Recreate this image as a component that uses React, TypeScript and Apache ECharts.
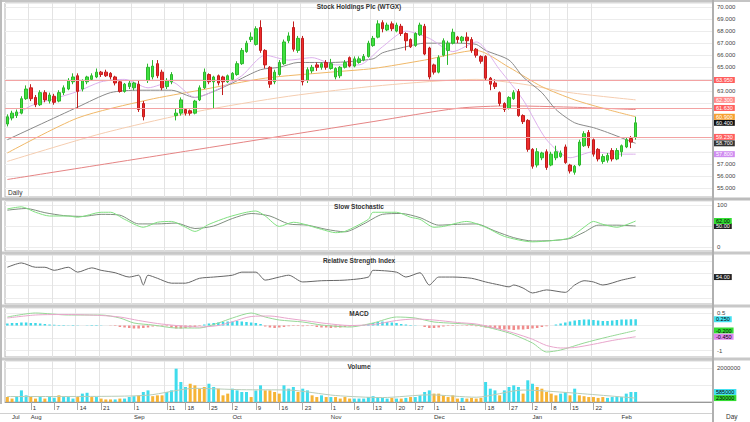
import React, { useEffect, useRef } from "react";
import * as echarts from "echarts";

const TITLE = "Stock Holdings Plc (WTGX)";
const FONT = "'Liberation Sans', Arial, sans-serif";

// ---- price data (daily OHLC) ----
const opens = [60.3,60.8,61.0,61.2,62.4,63.3,62.5,61.9,62.9,62.2, 62.6,62.2,62.9,63.2,63.8,64.3,63.2,63.8,64.0,64.2, 64.6,64.6,64.5,64.2,63.8,63.0,63.4,63.3,63.6,62.0, 63.9,64.2,65.3,64.6,63.4,63.8,61.0,61.2,61.5,61.4, 61.2,62.3,63.3,64.4,63.8,64.3,64.2,63.8,64.0,64.4, 65.3,66.3,67.3,66.9,68.3,66.4,65.0,63.8,64.4,65.3, 67.2,68.3,66.4,67.4,63.9,64.7,65.2,65.0,65.4,64.9, 64.2,64.3,65.0,65.8,65.1,65.4,65.6,65.9,66.8,67.5, 68.7,68.1,68.6,68.0,68.4,67.8,67.3,66.8,67.7,68.4, 66.6,65.2,64.6,66.0,66.4,67.0,67.5,67.2,67.5,67.3, 66.5,65.9,65.9,64.1,63.7,62.9,62.0,61.6,62.4,63.0, 61.0,60.6,58.2,56.9,57.5,58.0,56.9,57.5,57.6,58.4, 56.9,56.3,56.9,58.5,59.6,59.0,58.2,57.2,57.3,58.1, 57.4,58.0,58.4,59.1,59.2];
const closes = [60.9,61.2,61.3,62.4,63.2,62.4,61.9,62.9,62.3,62.7, 62.1,62.9,63.3,63.9,64.2,63.0,63.9,64.2,64.3,64.6, 64.4,64.3,64.2,63.7,63.0,63.6,63.7,63.7,61.5,60.9, 65.0,65.1,64.3,63.3,63.9,64.4,61.2,62.3,61.2,61.2, 62.2,63.3,64.6,63.8,64.2,63.7,63.8,64.3,64.5,65.3, 66.4,67.0,67.5,68.2,66.4,65.2,63.6,64.6,65.4,67.1, 67.6,66.5,67.4,63.8,64.8,65.0,65.0,65.3,65.0,65.3, 64.9,65.0,65.4,65.1,65.7,65.7,65.9,67.0,67.4,68.6, 68.2,68.5,68.2,68.5,67.8,67.2,66.7,67.8,68.5,66.1, 64.2,64.6,65.8,67.2,67.0,67.9,67.3,67.5,67.2,66.4, 66.0,65.5,64.1,63.6,63.4,62.0,61.5,62.5,62.9,61.0, 60.5,58.2,56.8,58.0,57.9,56.7,57.8,58.0,57.9,57.1, 56.4,56.8,58.8,59.5,58.5,57.8,57.4,57.6,57.7,57.4, 58.1,58.5,59.0,58.8,60.4];
const lows = [60.1,60.6,60.8,61.1,62.3,62.2,61.7,61.8,62.1,62.0, 61.9,62.1,62.7,63.1,63.6,61.6,63.0,63.6,63.9,64.1, 64.2,64.2,64.0,63.5,62.9,62.9,63.2,63.1,61.3,60.6, 63.7,64.0,64.1,63.1,63.2,63.6,60.6,61.0,61.0,61.0, 61.1,62.2,63.2,63.6,61.6,63.5,62.7,63.7,63.9,64.3, 65.2,66.2,67.1,66.8,66.2,64.9,63.3,63.6,64.3,65.2, 67.0,66.3,66.2,63.5,63.7,64.5,64.7,64.8,64.8,64.8, 64.0,64.1,64.9,65.0,65.0,65.3,65.5,65.8,66.7,67.4, 67.9,68.0,68.0,67.9,67.6,66.4,66.6,66.7,67.6,66.0, 64.0,64.4,64.5,65.9,65.2,66.9,67.0,67.0,66.6,66.2, 65.8,65.3,63.9,63.1,63.2,61.8,61.3,61.5,62.3,60.9, 60.3,58.0,56.6,56.7,57.3,56.5,56.8,57.3,57.5,57.0, 56.2,56.1,56.8,58.4,58.3,57.6,57.2,57.0,57.1,57.2, 57.3,57.6,58.3,58.3,59.0];
const highs = [61.1,61.4,61.5,62.6,63.5,63.6,62.7,63.1,63.1,62.9, 62.8,63.1,63.5,64.1,64.5,64.5,64.0,64.3,64.5,64.9, 64.7,64.8,64.6,64.3,63.9,63.7,63.9,63.8,63.9,62.2, 65.3,65.6,65.6,64.8,64.1,64.6,61.6,62.5,61.6,61.5, 62.3,63.5,64.9,64.5,64.3,64.4,64.3,64.4,64.6,65.5, 66.6,67.2,67.9,68.4,68.9,66.5,65.1,64.8,65.6,67.3, 67.9,68.8,67.6,67.6,65.0,65.2,65.4,65.4,65.6,65.7, 65.0,65.1,65.6,65.9,65.9,65.9,66.1,67.2,67.6,68.9, 68.9,68.7,68.8,68.7,68.6,67.9,67.4,67.9,68.7,68.6, 66.7,65.3,66.0,67.4,67.2,68.2,67.6,67.6,67.9,67.5, 66.6,66.0,66.0,64.2,64.0,63.0,62.1,62.6,63.1,63.2, 61.1,60.7,58.3,58.3,58.0,58.2,58.0,58.5,58.1,58.6, 57.0,56.9,59.0,59.7,59.8,59.1,58.3,57.8,57.9,58.3, 58.3,58.6,59.2,59.3,60.9];

// ---- moving averages: [day index, value] ----
const shortMA = [[0,60.6],[5,61.8],[10,62.4],[15,63.0],[20,63.8],[25,64.0],[30,63.3],[35,63.8],[40,62.5],[45,63.2],[50,64.3],[55,66.0],[60,65.6],[65,65.8],[70,65.2],[75,65.2],[80,66.7],[85,68.0],[90,67.4],[95,66.3],[100,67.1],[105,64.8],[110,62.3],[115,59.0],[120,57.5],[125,58.0],[130,57.8],[134,57.8]];
const grayMA = [[0,59.0],[15,61.7],[22,62.9],[28,63.1],[35,63.1],[40,62.5],[44,63.0],[48,63.7],[54,64.8],[58,65.0],[62,65.4],[69,65.4],[78,65.7],[80,66.2],[85,66.7],[89,67.0],[96,67.0],[100,66.9],[102,66.4],[107,65.6],[110,64.2],[114,62.9],[117,61.5],[121,60.4],[125,60.0],[128,59.6],[132,59.0],[134,58.7]];
const orangeMA = [[0,57.9],[15,60.8],[30,62.3],[41,63.1],[55,64.1],[69,64.6],[78,64.9],[89,65.6],[100,66.4],[107,65.0],[114,63.4],[121,62.3],[128,61.5],[134,60.9]];
const peachMA = [[0,57.2],[20,59.5],[40,61.3],[60,62.6],[80,63.5],[100,64.0],[110,63.6],[120,62.9],[134,62.3]];
const redMA = [[0,55.7],[39,58.1],[78,60.5],[96,61.6],[107,61.8],[120,61.7],[134,61.5]];
const levels = [63.95, 61.63, 59.23];

// ---- indicators ----
const stochK = [[0,91],[3,96],[6,83],[9,74],[13,74],[15,71],[20,83],[22,83],[25,66],[29,47],[32,59],[35,61],[38,47],[40,37],[43,54],[47,71],[51,83],[53,86],[55,74],[58,49],[61,59],[67,42],[70,34],[72,37],[77,66],[78,83],[83,83],[86,71],[88,66],[91,47],[93,49],[98,61],[102,47],[106,25],[112,12],[118,17],[120,22],[123,47],[125,61],[127,54],[130,47],[134,62]];
const stochD = [[0,88],[4,92],[8,82],[12,75],[16,73],[20,78],[24,76],[28,55],[32,55],[36,57],[40,44],[44,50],[48,68],[52,80],[56,74],[60,55],[64,52],[68,42],[72,36],[76,55],[80,78],[84,80],[88,70],[92,52],[96,54],[100,55],[104,38],[108,22],[112,14],[116,15],[120,20],[123,35],[126,52],[130,52],[134,50]];
const rsi = [[0,70],[3,77],[6,70],[8,70],[10,65],[13,70],[15,62],[18,69],[20,65],[23,61],[26,54],[28,57],[29,41],[30,57],[32,52],[35,44],[38,44],[41,52],[44,54],[48,57],[50,62],[53,62],[55,49],[58,54],[60,57],[63,46],[67,48],[72,49],[77,54],[78,65],[83,62],[85,54],[88,61],[90,41],[92,54],[95,54],[99,52],[102,46],[105,41],[107,38],[108,41],[110,36],[112,28],[115,33],[119,29],[121,41],[123,48],[125,46],[127,41],[131,49],[134,54]];
const macdLine = [[0,0.34],[6,0.5],[13,0.42],[20,0.42],[24,0.3],[27,0.1],[31,0.02],[36,-0.1],[41,-0.1],[45,0.1],[48,0.3],[52,0.5],[55,0.34],[58,0.22],[63,0.14],[67,0.02],[73,-0.06],[78,0.1],[83,0.34],[87,0.3],[91,0.14],[100,0.02],[107,-0.3],[112,-0.7],[115,-1.06],[118,-0.98],[123,-0.7],[128,-0.46],[134,-0.2]];
const macdSignal = [[0,0.3],[6,0.42],[13,0.44],[20,0.4],[24,0.34],[28,0.2],[32,0.08],[36,0.0],[41,-0.06],[45,0.0],[48,0.15],[52,0.36],[56,0.38],[60,0.28],[64,0.18],[68,0.08],[73,0.0],[78,0.04],[83,0.2],[87,0.26],[91,0.22],[96,0.12],[100,0.06],[104,-0.1],[108,-0.3],[112,-0.55],[115,-0.8],[118,-0.9],[121,-0.88],[125,-0.75],[129,-0.6],[134,-0.45]];
const macdHist = [0.08,0.1,0.1,0.12,0.12,0.1,0.1,0.08,0.06, 0.04,0.03,0.02,0.02,0.01,0.02,0.01,0,0.01,0.02,0.02,0.01,0,-0.01,-0.02, -0.06,-0.08,-0.1,-0.12,-0.12,-0.1,-0.08, -0.04,-0.03,-0.02,-0.03, -0.08,-0.12,-0.12,-0.1,-0.08,-0.06, -0.02, 0.04,0.08,0.1,0.12,0.14,0.16,0.16,0.18,0.16,0.14,0.12,0.1,0.06, -0.04,-0.08,-0.1,-0.08,-0.06, -0.03,-0.02,-0.02,-0.03,-0.02,-0.02, -0.06,-0.08,-0.08,-0.1,-0.08,-0.08,-0.06,-0.04, -0.02,0,0.02, 0.06,0.1,0.14,0.16,0.14,0.12,0.1, 0.06,0.04,0.02,0.01,0, -0.06,-0.1,-0.1,-0.08, -0.04,-0.02,-0.02,-0.01,-0.01,-0.02,-0.02,-0.03,-0.04, -0.08,-0.1,-0.12,-0.14,-0.16,-0.16,-0.18,-0.16,-0.16,-0.14,-0.12,-0.1,-0.06, -0.03,0, 0.04,0.08,0.12,0.16,0.2,0.22,0.24,0.24,0.22,0.2,0.18,0.18,0.2,0.22,0.24,0.24,0.25,0.25];

// volume in thousands of shares, and bar colour (c = cyan, o = orange)
const volumeK = [290,200,290,680,390,290,200,290,200,290, 250,390,290,290,200,290,490,540,290,290, 200,150,150,150,200,200,290,340,390,585, 680,340,390,390,585,680,1950,1170,880,1070, 975,780,880,1070,880,780,390,490,780,680, 585,585,290,680,975,680,680,585,490,975, 780,880,585,780,680,390,290,390,290,290, 290,200,290,200,200,200,200,290,340,290, 240,200,240,200,200,240,290,290,390,585, 680,490,490,390,290,390,200,240,200,240, 200,240,1170,780,680,390,680,880,975,880, 490,1270,1070,880,780,585,490,390,490,585, 390,780,390,340,290,290,240,290,240,290, 290,290,490,585,585];
const volumeSide = ["oocccoococ","cocccoccoc","ooococccoc","coooccccco","oooccooocc","ccoccooooc","ccoccoococ","oooocccccc","ccocococcc","coooooocoo","oocccocccc","occooooocc","ocoooooocc","ccccc"].join("");
const volumeMA = [[0,320],[20,330],[30,400],[40,800],[50,720],[60,700],[70,380],[80,260],[90,420],[100,280],[110,700],[120,540],[134,230]];

// ---- x axis ticks ----
const SLOTS = 151;
const categories = Array.from({ length: SLOTS }, (_, i) => String(i));
const weekTicks: [number, string][] = [[5,"1"],[10,"7"],[15,"14"],[20,"21"],[27,"1"],[34,"11"],[38,"18"],[43,"25"],[48,"2"],[53,"9"],[58,"16"],[63,"23"],[69,"1"],[74,"6"],[78,"13"],[83,"20"],[87,"27"],[91,"1"],[96,"11"],[102,"18"],[107,"27"],[112,"2"],[116,"8"],[120,"15"],[125,"22"]];
const monthTicks: [number, string][] = [[1,"Jul"],[5,"Aug"],[27,"Sep"],[48,"Oct"],[69,"Nov"],[91,"Dec"],[112,"Jan"],[131,"Feb"]];

const last = (arr: number[][]) => arr[arr.length - 1][1];
const CLEAR = "rgba(0,0,0,0)";

function tagLabel(bg: string, fg: string, text: string) {
  return {
    show: true, position: "end", distance: 1, formatter: text,
    backgroundColor: bg, color: fg, fontSize: 5.5, fontFamily: FONT,
    padding: [0, 2, 0, 2], lineHeight: 6,
  };
}
function tag(value: number, bg: string, fg: string, text: string) {
  return {
    silent: true, symbol: "none", animation: false,
    lineStyle: { color: CLEAR, width: 1 },
    label: tagLabel(bg, fg, text),
    data: [{ yAxis: value }],
  };
}
const near = (v: number, list: number[], d: number) => list.some((t) => Math.abs(t - v) < d);

function buildOption() {
  const L = 5, R = 37;
  const gridDefs = [
    { top: 3, height: 194 },
    { top: 201, height: 50 },
    { top: 255, height: 49 },
    { top: 308, height: 49 },
    { top: 361, height: 41 },
  ];
  const weekSet = new Set(weekTicks.map((t) => t[0]));
  const weekMap = new Map(weekTicks.map((t) => [String(t[0]), t[1]]));
  const monthSet = new Set(monthTicks.map((t) => t[0]));
  const monthMap = new Map(monthTicks.map((t) => [String(t[0]), t[1]]));
  const splitInt = (i: number) => weekSet.has(i);

  const lastClose = closes[closes.length - 1];
  const priceTags = [...levels, lastClose, last(peachMA), last(orangeMA), last(grayMA), last(shortMA)];
  const histLast = macdHist[macdHist.length - 1];
  const macdTags = [histLast, last(macdLine), last(macdSignal)];

  const xAxis: any[] = gridDefs.map((_, k) => ({
    type: "category", gridIndex: k, data: categories, boundaryGap: true,
    axisLine: { show: k === 4, lineStyle: { color: "#999" } },
    axisTick: k === 4
      ? { show: true, interval: splitInt, length: 8, alignWithLabel: true, lineStyle: { color: "#aaa" } }
      : { show: false },
    axisLabel: k === 4
      ? { show: true, interval: splitInt, formatter: (v: string) => weekMap.get(v) ?? "", fontSize: 6, color: "#333", margin: 3, align: "left", padding: [0, 0, 0, 2] }
      : { show: false },
    splitLine: { show: true, interval: splitInt, lineStyle: { color: "#e3e3e3", width: 1 } },
  }));
  xAxis.push({
    type: "category", gridIndex: 4, data: categories, boundaryGap: true, position: "bottom", offset: 10,
    axisLine: { show: false }, axisTick: { show: false }, splitLine: { show: false },
    axisLabel: { show: true, interval: (i: number) => monthSet.has(i), formatter: (v: string) => monthMap.get(v) ?? "", fontSize: 6, color: "#333", margin: 2, align: "left" },
  });

  const yBase = {
    type: "value", position: "right",
    axisLine: { show: false }, axisTick: { show: false },
    splitLine: { show: true, lineStyle: { color: "#ececec" } },
  };
  const yAxis: any[] = [
    { ...yBase, gridIndex: 0, min: 54.25, max: 70.33, minInterval: 1, maxInterval: 1, splitNumber: 16,
      axisLabel: { fontSize: 6, color: "#444", margin: 4, showMinLabel: false, showMaxLabel: false,
        formatter: (v: number) => (near(v, priceTags, 0.5) ? "" : v.toFixed(3)) } },
    { ...yBase, gridIndex: 1, min: -10, max: 110, minInterval: 50, maxInterval: 50,
      axisLabel: { fontSize: 6, color: "#444", margin: 4, formatter: (v: number) => (v === 0 || v === 100 ? String(v) : "") } },
    { ...yBase, gridIndex: 2, min: 10, max: 90, minInterval: 20, maxInterval: 20,
      axisLabel: { show: false } },
    { ...yBase, gridIndex: 3, min: -1.26, max: 0.7, minInterval: 0.5, maxInterval: 0.5,
      axisLabel: { fontSize: 6, color: "#444", margin: 4, showMinLabel: false, showMaxLabel: false,
        formatter: (v: number) => (near(v, macdTags, 0.22) ? "" : String(v)) } },
    { ...yBase, gridIndex: 4, min: 0, max: 2400, minInterval: 1000, maxInterval: 1000,
      axisLabel: { fontSize: 6, color: "#444", margin: 4, formatter: (v: number) => (v === 2000 ? String(v * 1000) : "") } },
  ];

  const candleData = opens.map((o, i) => [o, closes[i], lows[i], highs[i]]);

  const lineS = (data: number[][], xi: number, color: string, width = 1, markLine?: any) => ({
    type: "line", xAxisIndex: xi, yAxisIndex: xi, data, showSymbol: false, smooth: 0.25,
    lineStyle: { color, width }, itemStyle: { color }, silent: true, z: 3,
    ...(markLine ? { markLine } : {}),
  });

  const series: any[] = [
    {
      type: "candlestick", xAxisIndex: 0, yAxisIndex: 0, data: candleData, barWidth: 3, z: 4,
      itemStyle: { color: "#3fe03f", color0: "#ee2b2b", borderColor: "#2cb82c", borderColor0: "#c21d1d", borderWidth: 1 },
      markLine: {
        silent: true, symbol: "none", animation: false,
        lineStyle: { color: "#f3a3a3", width: 1, type: "solid" },
        label: { ...tagLabel("#ff5e5e", "#fff", ""), formatter: (p: any) => Number(p.value).toFixed(3) },
        data: [
          ...levels.map((v) => ({ yAxis: v })),
          { yAxis: lastClose, lineStyle: { color: CLEAR }, label: { backgroundColor: "#111", color: "#fff" } },
        ],
      },
    },
    lineS(redMA, 0, "#e58484", 1),
    lineS(peachMA, 0, "#f5cdb0", 1, tag(last(peachMA), "#ff8a8a", "#fff", last(peachMA).toFixed(3))),
    lineS(orangeMA, 0, "#f0b868", 1, tag(last(orangeMA), "#f7a030", "#fff", last(orangeMA).toFixed(3))),
    lineS(grayMA, 0, "#8a8a8a", 1, tag(last(grayMA), "#333", "#fff", last(grayMA).toFixed(3))),
    lineS(shortMA, 0, "#dcb0ec", 1, tag(last(shortMA), "#cf8cf0", "#fff", last(shortMA).toFixed(3))),

    lineS(stochD, 1, "#7f8f7f", 1, tag(last(stochD), "#222", "#fff", last(stochD).toFixed(2))),
    lineS(stochK, 1, "#80e080", 1, tag(last(stochK), "#33dd33", "#000", last(stochK).toFixed(2))),

    lineS(rsi, 2, "#666", 1, tag(last(rsi), "#222", "#fff", last(rsi).toFixed(2))),

    {
      type: "bar", xAxisIndex: 3, yAxisIndex: 3, barWidth: 2.5, silent: true,
      data: macdHist.map((v) => ({ value: v, itemStyle: { color: v >= 0 ? "#3dd8e8" : "#f08c8c" } })),
      markLine: tag(histLast, "#44e0f0", "#000", histLast.toFixed(3)),
    },
    lineS(macdLine, 3, "#96d896", 1, tag(last(macdLine), "#33dd33", "#000", last(macdLine).toFixed(3))),
    lineS(macdSignal, 3, "#e8a6cc", 1, tag(last(macdSignal), "#e088f0", "#000", last(macdSignal).toFixed(3))),

    {
      type: "bar", xAxisIndex: 4, yAxisIndex: 4, barWidth: 3, silent: true,
      data: volumeK.map((v, i) => ({ value: v, itemStyle: { color: volumeSide[i] === "c" ? "#3fdcec" : "#f6b436" } })),
      markLine: tag(volumeK[volumeK.length - 1], "#44e0f0", "#000", String(volumeK[volumeK.length - 1] * 1000)),
    },
    lineS(volumeMA, 4, "#b8ccb8", 1, tag(last(volumeMA), "#33dd33", "#000", String(last(volumeMA) * 1000))),
  ];

  const txt = (text: string, x: number, y: number, align = "center", bold = true) => ({
    type: "text", x, y, z: 20,
    style: { text, fill: "#333", font: `${bold ? "bold " : ""}6.5px ${FONT}`, align, verticalAlign: "top" },
  });
  const band = (y: number, h: number, fill: string) => ({
    type: "rect", z: 15, shape: { x: 0, y, width: 750, height: h }, style: { fill },
  });

  return {
    animation: false,
    backgroundColor: "#fff",
    textStyle: { fontFamily: FONT },
    grid: gridDefs.map((g) => ({ left: L, right: R, top: g.top, height: g.height, show: true, borderColor: "#b4b4b4", borderWidth: 1, backgroundColor: "#fff" })),
    xAxis, yAxis, series,
    graphic: [
      band(0, 2, "#c4c4c4"),
      band(197.5, 3, "#bcbcbc"),
      band(251.5, 3, "#c8c8c8"),
      band(304.5, 3, "#c8c8c8"),
      band(357.5, 3, "#c8c8c8"),
      { type: "rect", z: 15, shape: { x: 0, y: 0, width: 2, height: 404 }, style: { fill: "#bcbcbc" } },
      { type: "rect", z: 15, shape: { x: 712, y: 0, width: 2, height: 422 }, style: { fill: "#b0b0b0" } },
      { type: "rect", z: 15, shape: { x: 0, y: 413, width: 712, height: 1 }, style: { fill: "#d0d0d0" } },
      txt(TITLE, 359, 3),
      txt("Slow Stochastic", 359, 203),
      txt("Relative Strength Index", 359, 257),
      txt("MACD", 359, 310),
      txt("Volume", 359, 363),
      txt("Daily", 8, 189, "left", false),
      txt("Day", 726, 413, "left", false),
    ],
  };
}

export default function App() {
  const ref = useRef<HTMLDivElement>(null);
  useEffect(() => {
    document.body.style.margin = "0";
    const chart = echarts.init(ref.current as HTMLDivElement, undefined, { renderer: "svg" });
    chart.setOption(buildOption() as any);
    return () => chart.dispose();
  }, []);
  return <div ref={ref} style={{ width: 750, height: 422 }} />;
}
